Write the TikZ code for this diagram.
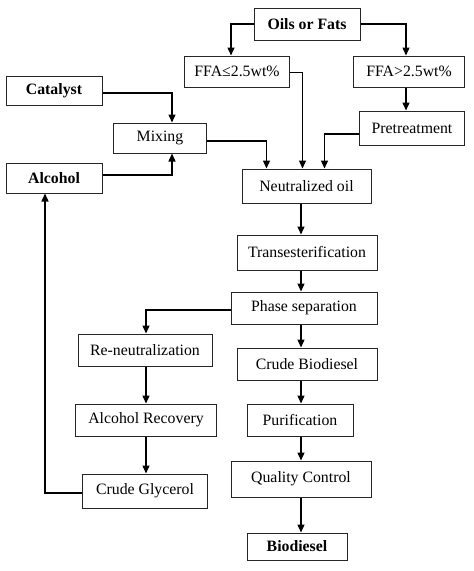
\documentclass[tikz,border=0pt]{standalone}
\usepackage{fontspec}
\setmainfont{Liberation Serif}
\usetikzlibrary{arrows.meta}
\begin{document}
\begin{tikzpicture}[
        x=1pt, y=-1pt,
        every node/.style={draw=black!85, line width=1pt, rectangle, inner sep=0pt, font=\fontsize{15.8}{18}\selectfont},
        box_bold/.style={font=\fontsize{15.8}{18}\selectfont\bfseries},
        flow/.style={draw, line width=1.3pt, -{Triangle[length=8pt,width=7pt]}},
        ]
    \useasboundingbox (0,0) rectangle (474,571);
    % raw material
    \node[box_bold, minimum width=106, minimum height=32] (oils) at (307,24) {Oils or Fats};
    \node[minimum width=105, minimum height=31] (ffa_low) at (237,71.5) {FFA≤2.5wt\%};
    \node[minimum width=111, minimum height=31] (ffa_high) at (409,71.5) {FFA>2.5wt\%};
    \node[minimum width=105, minimum height=34] (pretreat) at (412,128) {Pretreatment};
    % catalyst and alcohol
    \node[box_bold, minimum width=96, minimum height=29] (catalyst) at (54,90.5) {Catalyst};
    \node[box_bold, minimum width=96, minimum height=30] (alcohol) at (54,178) {Alcohol};
    \node[minimum width=93, minimum height=30] (mixing) at (160,138) {Mixing};
    % main line
    \node[minimum width=129, minimum height=34] (neutral) at (306.5,186) {Neutralized oil};
    \node[minimum width=140, minimum height=35] (trans) at (307,252.5) {Transesterification};
    \node[minimum width=146, minimum height=32] (phase) at (304,308) {Phase separation};
    \node[minimum width=140, minimum height=32] (crude_bd) at (307,364) {Crude Biodiesel};
    \node[minimum width=106, minimum height=32] (purif) at (300,420) {Purification};
    \node[minimum width=140, minimum height=36] (quality) at (301,479) {Quality Control};
    \node[box_bold, minimum width=100, minimum height=27] (biodiesel) at (297,546.5) {Biodiesel};
    % glycerol line
    \node[minimum width=134, minimum height=32] (reneutral) at (145,350) {Re-neutralization};
    \node[minimum width=141, minimum height=32] (alc_recov) at (146,420) {Alcohol Recovery};
    \node[minimum width=125, minimum height=34] (glycerol) at (145,491) {Crude Glycerol};

    \draw[flow] (oils.west) -| ([xshift=-6]ffa_low.north);
    \draw[flow] (oils.east) -| ([xshift=-3]ffa_high.north);
    \draw[flow] ([yshift=-1]ffa_low.east) -| ([xshift=-4]neutral.north);
    \draw[flow] ([xshift=-3]ffa_high.south) -- ([xshift=-3]ffa_high.south |- pretreat.north);
    \draw[flow] ([yshift=-6]pretreat.west) -| ([xshift=18]neutral.north);
    \draw[flow] ([yshift=-2.5]catalyst.east) -| ([xshift=12]mixing.north);
    \draw[flow] ([yshift=3]alcohol.east) -| ([xshift=12]mixing.south);
    \draw[flow] ([yshift=-3]mixing.east) -| ([xshift=-40]neutral.north);
    \draw[flow] (neutral.south -| quality.south) -- (trans.north -| quality.south);
    \draw[flow] (trans.south -| quality.south) -- (phase.north -| quality.south);
    \draw[flow] ([yshift=-2]phase.west) -| ([xshift=1]reneutral.north);
    \draw[flow] (phase.south -| quality.south) -- (crude_bd.north -| quality.south);
    \draw[flow] (crude_bd.south -| quality.south) -- (purif.north -| quality.south);
    \draw[flow] (purif.south -| quality.south) -- (quality.north);
    \draw[flow] (quality.south) -- (biodiesel.north -| quality.south);
    \draw[flow] ([xshift=1]reneutral.south) -- ([xshift=1]reneutral.south |- alc_recov.north);
    \draw[flow] ([xshift=1]reneutral.south |- alc_recov.south) -- ([xshift=1]reneutral.south |- glycerol.north);
    \draw[flow] ([yshift=-2]glycerol.west) -| ([xshift=-9]alcohol.south);
\end{tikzpicture}
\end{document}
